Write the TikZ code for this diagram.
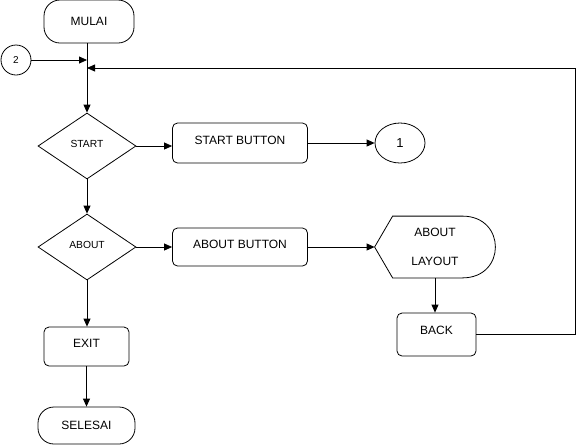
\documentclass[tikz,border=0pt]{standalone}
\usepackage{fontspec}
\setmainfont{Liberation Sans}
\usetikzlibrary{arrows.meta,shapes.geometric}
\pgfkeys{/pixels/.code=\tikzset{x={(1pt,0pt)},y={(0pt,-1pt)}}}
\tikzset{
 every node/.style={font=\fontsize{12}{14}\selectfont, inner sep=0pt},
 terminal/.style={draw, rounded corners=16pt, minimum width=90pt, minimum height=43pt},
 process/.style={draw, rounded corners=5pt, minimum width=135pt, minimum height=40pt, text depth=6pt},
 decision/.style={draw, diamond, minimum width=98pt, minimum height=66pt, text depth=4pt, font=\fontsize{10.3}{12}\selectfont},
 connector/.style={draw, circle, minimum size=30pt, font=\fontsize{10}{12}\selectfont},
 offpage/.style={draw, ellipse, minimum width=50pt, minimum height=40pt, font=\fontsize{13}{15}\selectfont},
 flow/.style={-{Triangle[length=8pt,width=7pt]}}
}
\begin{document}
\begin{tikzpicture}[/pixels, line width=0.8pt]
\useasboundingbox (0,0) rectangle (577,445);

\node[terminal] (mulai) at (89,21.5) {MULAI};
\node[connector] (c2) at (16,60) {2};
\node[decision] (start) at (87,146) {START};
\node[process] (startbtn) at (240,143) {START BUTTON};
\node[offpage] (c1) at (400,143) {1};
\node[decision] (about) at (87,247) {ABOUT};
\node[process, minimum height=38pt] (aboutbtn) at (240,247) {ABOUT BUTTON};
\node[minimum width=120pt, minimum height=61pt, align=center] (layout) at (435,247) {ABOUT\\[15pt]LAYOUT};
\draw (layout.west) -- ([xshift=18pt]layout.north west) -- ([xshift=-33pt]layout.north east)
 .. controls ([xshift=11pt]layout.north east) and ([xshift=11pt]layout.south east) .. ([xshift=-33pt]layout.south east)
 -- ([xshift=18pt]layout.south west) -- cycle;
\node[process, minimum width=79pt, minimum height=43pt, text depth=9pt] (back) at (436.5,334.5) {BACK};
\node[process, minimum width=85pt, minimum height=39pt] (exit) at (86.5,346.5) {EXIT};
\node[terminal, minimum width=97pt, minimum height=37pt] (selesai) at (86.5,425.5) {SELESAI};

\coordinate (loop) at (575,68);
\draw[flow] (mulai.south -| start.north) -- (start.north);
\draw[flow] (c2.east) -- (c2.east -| start.north);
\draw[flow] (back.east) -| (loop) -- (loop -| start.north);
\draw[flow] (start.east) -- (start.east -| startbtn.west);
\draw[flow] (startbtn.east) -- (c1.west);
\draw[flow] (start.south) -- (about.north);
\draw[flow] (about.east) -- (aboutbtn.west);
\draw[flow] (aboutbtn.east) -- (layout.west);
\draw[flow] (layout.south) -- (layout.south |- back.north);
\draw[flow] (about.south) -- (about.south |- exit.north);
\draw[flow] (exit.south) -- (exit.south |- selesai.north);
\end{tikzpicture}
\end{document}
